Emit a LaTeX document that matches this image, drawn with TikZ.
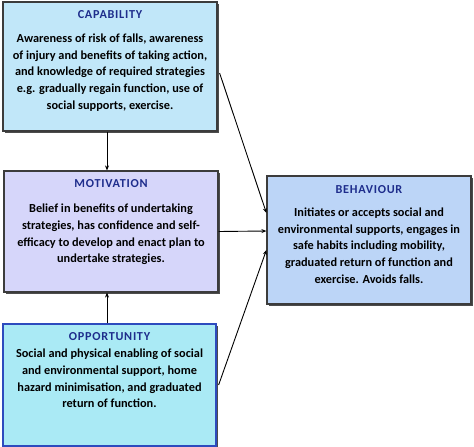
\documentclass[tikz,border=0pt]{standalone}
\usepackage{fontspec}
\setmainfont{Carlito}
\usetikzlibrary{arrows.meta,calc,shadows}
\definecolor{capfill}{RGB}{193,231,249}
\definecolor{motfill}{RGB}{214,214,250}
\definecolor{oppfill}{RGB}{170,234,245}
\definecolor{behfill}{RGB}{188,213,247}
\definecolor{ttl}{RGB}{30,45,140}
\definecolor{boxline}{RGB}{60,60,60}
\definecolor{oppline}{RGB}{45,75,190}
\begin{document}
\begin{tikzpicture}[x=1pt,y=-1pt,
  panel/.style={draw=boxline,line width=1.2pt,inner sep=0pt,
    drop shadow={shadow xshift=1.5pt,shadow yshift=-1.5pt,fill=black!70,opacity=1}},
  ttlstyle/.style={font=\fontsize{12.2}{14}\selectfont\bfseries\addfontfeature{LetterSpace=6},text=ttl,inner sep=0pt},
  bodystyle/.style={font=\fontsize{12.3}{16.7}\selectfont\bfseries,align=center,inner sep=0pt,anchor=north},
  conn/.style={line width=0.9pt,-{Stealth[length=5pt,width=4pt]}}]
\useasboundingbox (0,0) rectangle (474,447);
\fill[white] (0,0) rectangle (474,447);
% boxes
\node[panel,fill=capfill,minimum width=214pt,minimum height=129pt] (cap) at (110,66.5) {};
\node[panel,fill=motfill,minimum width=214pt,minimum height=121pt] (mot) at (111,231.5) {};
\node[panel,fill=oppfill,draw=oppline,minimum width=213pt,minimum height=122pt] (opp) at (109.5,385) {};
\node[panel,fill=behfill,minimum width=204pt,minimum height=128pt] (beh) at (369,240) {};
% titles
\node[ttlstyle] (capT) at (110,15) {CAPABILITY};
\node[ttlstyle] (motT) at (111,184) {MOTIVATION};
\node[ttlstyle] (oppT) at (109.5,337) {OPPORTUNITY};
\node[ttlstyle] (behT) at (369,190) {BEHAVIOUR};
% bodies
\node[bodystyle] (capB) at (110,33.5) {Awareness of risk of falls, awareness\\of injury and benefits of taking action,\\and knowledge of required strategies\\e.g. gradually regain function, use of\\social supports, exercise.};
\node[bodystyle] (motB) at (111,204) {Belief in benefits of undertaking\\strategies, has confidence and self-\\efficacy to develop and enact plan to\\undertake strategies.};
\node[bodystyle] (oppB) at (109.5,349) {Social and physical enabling of social\\and environmental support, home\\hazard minimisation, and graduated\\return of function.};
\node[bodystyle] (behB) at (369,207.5) {Initiates or accepts social and\\environmental supports, engages in\\safe habits including mobility,\\graduated return of function and\\exercise. Avoids falls.};
% connectors
\draw[conn] ($(cap.south)+(-3,0)$) -- ($(mot.north)+(-4,0)$);
\draw[conn] ($(opp.north)+(-2.5,0)$) -- ($(mot.south)+(-4,0)$);
\draw[conn] ($(cap.east)+(2,6.5)$) -- ($(beh.west)+(0,-27)$);
\draw[conn] (mot.east) -- ($(beh.west)+(0,-9)$);
\draw[conn] ($(opp.east)+(2,0)$) -- ($(beh.west)+(0,10)$);
\end{tikzpicture}
\end{document}
